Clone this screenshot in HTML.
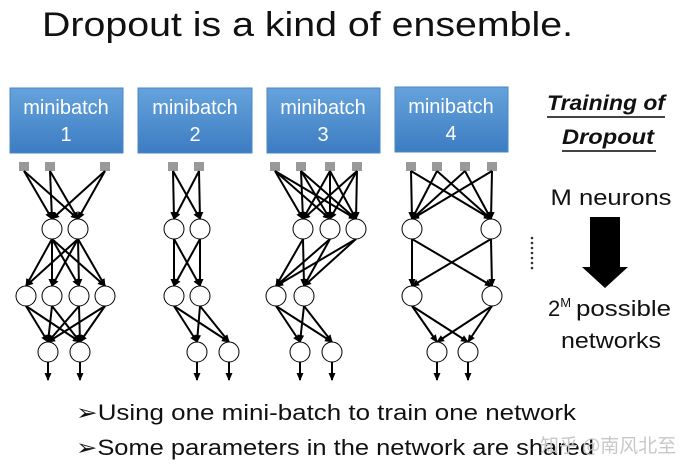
<!DOCTYPE html>
<html><head><meta charset="utf-8"><style>
html,body{margin:0;padding:0;background:#fff;}
svg{display:block;font-family:"Liberation Sans","Noto Sans CJK SC",sans-serif;}
</style></head><body>
<svg width="682" height="467" viewBox="0 0 682 467" xmlns="http://www.w3.org/2000/svg">
<defs>
<linearGradient id="g" x1="0" y1="0" x2="0" y2="1"><stop offset="0" stop-color="#66a3dc"/><stop offset="1" stop-color="#3c7cc2"/></linearGradient>
<marker id="a" markerWidth="8" markerHeight="8" refX="7" refY="4" orient="auto" markerUnits="userSpaceOnUse"><path d="M0,0.5 L8,4 L0,7.5 Z" fill="#000"/></marker>
</defs>
<text x="42" y="36" font-size="34" textLength="531" lengthAdjust="spacingAndGlyphs" fill="#111">Dropout is a kind of ensemble.</text>

<g fill="url(#g)" stroke="#4a86c8" stroke-width="1">
<rect x="10" y="88" width="113" height="65"/>
<rect x="138" y="88" width="114" height="65"/>
<rect x="267" y="88" width="113" height="65"/>
<rect x="395" y="87" width="113" height="65"/>
</g>
<g fill="#fff" font-size="20" text-anchor="middle">
<text x="66" y="114">minibatch</text><text x="66" y="141">1</text>
<text x="195" y="114">minibatch</text><text x="195" y="141">2</text>
<text x="323" y="114">minibatch</text><text x="323" y="141">3</text>
<text x="451" y="113">minibatch</text><text x="451" y="140">4</text>
</g>

<g fill="#999">
<rect x="19" y="162" width="10" height="9"/><rect x="45" y="162" width="10" height="9"/><rect x="100" y="162" width="10" height="9"/>
<rect x="168" y="162" width="10" height="9"/><rect x="194" y="162" width="10" height="9"/>
<rect x="270" y="162" width="10" height="9"/><rect x="296" y="162" width="10" height="9"/><rect x="325" y="162" width="10" height="9"/><rect x="352" y="162" width="10" height="9"/>
<rect x="406" y="162" width="10" height="9"/><rect x="432" y="162" width="10" height="9"/><rect x="460" y="162" width="10" height="9"/><rect x="487" y="162" width="10" height="9"/>
</g>

<g stroke="#000" stroke-width="2" marker-end="url(#a)">
<line x1="24" y1="171" x2="52" y2="219"/><line x1="24" y1="171" x2="78" y2="219"/>
<line x1="50" y1="171" x2="52" y2="219"/><line x1="50" y1="171" x2="78" y2="219"/>
<line x1="105" y1="171" x2="52" y2="219"/><line x1="105" y1="171" x2="78" y2="219"/>
<line x1="52" y1="239" x2="26" y2="286"/><line x1="52" y1="239" x2="52" y2="286"/><line x1="52" y1="239" x2="79" y2="286"/><line x1="52" y1="239" x2="105" y2="286"/>
<line x1="78" y1="239" x2="26" y2="286"/><line x1="78" y1="239" x2="52" y2="286"/><line x1="78" y1="239" x2="79" y2="286"/><line x1="78" y1="239" x2="105" y2="286"/>
<line x1="26" y1="306" x2="48" y2="342"/><line x1="26" y1="306" x2="80" y2="342"/>
<line x1="52" y1="306" x2="48" y2="342"/><line x1="52" y1="306" x2="80" y2="342"/>
<line x1="79" y1="306" x2="48" y2="342"/><line x1="79" y1="306" x2="80" y2="342"/>
<line x1="105" y1="306" x2="48" y2="342"/><line x1="105" y1="306" x2="80" y2="342"/>
<line x1="48" y1="362" x2="48" y2="380"/><line x1="80" y1="362" x2="80" y2="380"/>
<line x1="173" y1="171" x2="174" y2="219"/><line x1="173" y1="171" x2="200" y2="219"/>
<line x1="199" y1="171" x2="174" y2="219"/><line x1="199" y1="171" x2="200" y2="219"/>
<line x1="174" y1="239" x2="174" y2="286"/><line x1="174" y1="239" x2="200" y2="286"/>
<line x1="200" y1="239" x2="174" y2="286"/><line x1="200" y1="239" x2="200" y2="286"/>
<line x1="174" y1="306" x2="197" y2="342"/><line x1="174" y1="306" x2="229" y2="342"/>
<line x1="200" y1="306" x2="197" y2="342"/><line x1="200" y1="306" x2="229" y2="342"/>
<line x1="197" y1="362" x2="197" y2="380"/><line x1="229" y1="362" x2="229" y2="380"/>
<line x1="275" y1="171" x2="303" y2="219"/><line x1="275" y1="171" x2="330" y2="219"/><line x1="275" y1="171" x2="356" y2="219"/>
<line x1="301" y1="171" x2="303" y2="219"/><line x1="301" y1="171" x2="330" y2="219"/><line x1="301" y1="171" x2="356" y2="219"/>
<line x1="330" y1="171" x2="303" y2="219"/><line x1="330" y1="171" x2="330" y2="219"/><line x1="330" y1="171" x2="356" y2="219"/>
<line x1="357" y1="171" x2="303" y2="219"/><line x1="357" y1="171" x2="330" y2="219"/><line x1="357" y1="171" x2="356" y2="219"/>
<line x1="303" y1="239" x2="276" y2="286"/><line x1="303" y1="239" x2="304" y2="286"/>
<line x1="330" y1="239" x2="276" y2="286"/><line x1="330" y1="239" x2="304" y2="286"/>
<line x1="356" y1="239" x2="276" y2="286"/><line x1="356" y1="239" x2="304" y2="286"/>
<line x1="276" y1="306" x2="300" y2="342"/><line x1="276" y1="306" x2="332" y2="342"/>
<line x1="304" y1="306" x2="300" y2="342"/><line x1="304" y1="306" x2="332" y2="342"/>
<line x1="300" y1="362" x2="300" y2="380"/><line x1="332" y1="362" x2="332" y2="380"/>
<line x1="411" y1="171" x2="412" y2="219"/><line x1="411" y1="171" x2="491" y2="219"/>
<line x1="437" y1="171" x2="412" y2="219"/><line x1="437" y1="171" x2="491" y2="219"/>
<line x1="465" y1="171" x2="412" y2="219"/><line x1="465" y1="171" x2="491" y2="219"/>
<line x1="492" y1="171" x2="412" y2="219"/><line x1="492" y1="171" x2="491" y2="219"/>
<line x1="412" y1="239" x2="412" y2="286"/><line x1="412" y1="239" x2="492" y2="286"/>
<line x1="491" y1="239" x2="412" y2="286"/><line x1="491" y1="239" x2="492" y2="286"/>
<line x1="412" y1="306" x2="437" y2="342"/><line x1="412" y1="306" x2="468" y2="342"/>
<line x1="492" y1="306" x2="437" y2="342"/><line x1="492" y1="306" x2="468" y2="342"/>
<line x1="437" y1="362" x2="437" y2="380"/><line x1="468" y1="362" x2="468" y2="380"/>
</g>

<g fill="#fff" stroke="#000" stroke-width="1">
<circle cx="52" cy="229" r="10"/><circle cx="78" cy="229" r="10"/>
<circle cx="26" cy="296" r="10"/><circle cx="52" cy="296" r="10"/><circle cx="79" cy="296" r="10"/><circle cx="105" cy="296" r="10"/>
<circle cx="48" cy="352" r="10"/><circle cx="80" cy="352" r="10"/>
<circle cx="174" cy="229" r="10"/><circle cx="200" cy="229" r="10"/>
<circle cx="174" cy="296" r="10"/><circle cx="200" cy="296" r="10"/>
<circle cx="197" cy="352" r="10"/><circle cx="229" cy="352" r="10"/>
<circle cx="303" cy="229" r="10"/><circle cx="330" cy="229" r="10"/><circle cx="356" cy="229" r="10"/>
<circle cx="276" cy="296" r="10"/><circle cx="304" cy="296" r="10"/>
<circle cx="300" cy="352" r="10"/><circle cx="332" cy="352" r="10"/>
<circle cx="412" cy="229" r="10"/><circle cx="491" cy="229" r="10"/>
<circle cx="412" cy="296" r="10"/><circle cx="492" cy="296" r="10"/>
<circle cx="437" cy="352" r="10"/><circle cx="468" cy="352" r="10"/>
</g>

<g fill="#333"><circle cx="532" cy="238" r="1.3"/><circle cx="532" cy="243" r="1.3"/><circle cx="532" cy="248" r="1.3"/><circle cx="532" cy="253" r="1.3"/><circle cx="532" cy="258" r="1.3"/><circle cx="532" cy="263" r="1.3"/><circle cx="532" cy="268" r="1.3"/></g>

<g font-size="21" font-weight="bold" font-style="italic" fill="#111" text-anchor="middle">
<text x="606" y="110" textLength="118" lengthAdjust="spacingAndGlyphs">Training of</text>
<text x="608" y="144" textLength="92" lengthAdjust="spacingAndGlyphs">Dropout</text>
</g>
<rect x="547" y="116" width="118" height="2" fill="#444"/>
<rect x="562" y="150" width="94" height="2" fill="#444"/>
<text x="611" y="205" font-size="22" text-anchor="middle" fill="#111" textLength="121" lengthAdjust="spacingAndGlyphs">M neurons</text>
<path d="M590,217 H620 V267 H628 L605,288 L582,267 H590 Z" fill="#000"/>
<text x="548" y="316" font-size="22" fill="#111">2<tspan font-size="13" dy="-9">M</tspan></text>
<text x="576" y="316" font-size="22" fill="#111" textLength="95" lengthAdjust="spacingAndGlyphs">possible</text>
<text x="611" y="348" font-size="22" text-anchor="middle" fill="#111" textLength="100" lengthAdjust="spacingAndGlyphs">networks</text>

<g font-size="22" fill="#111">
<text x="76" y="420" textLength="500" lengthAdjust="spacingAndGlyphs">➢Using one mini-batch to train one network</text>
<text x="76" y="455" textLength="518" lengthAdjust="spacingAndGlyphs">➢Some parameters in the network are shared</text>
</g>
<text x="540" y="452" font-size="19" fill="#c8c8c8" font-family="'Noto Sans CJK SC',sans-serif">知乎 @南风北至</text>
</svg>
</body></html>
